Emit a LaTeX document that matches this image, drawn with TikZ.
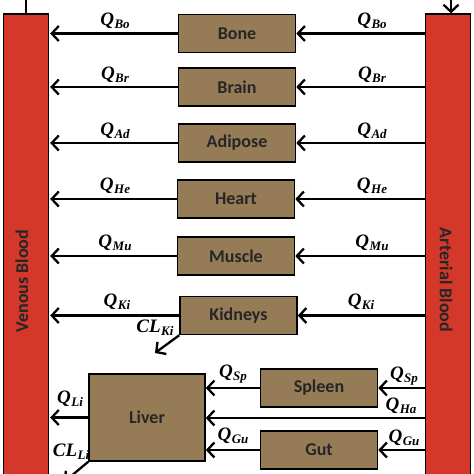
\documentclass[tikz,border=0pt]{standalone}
\usepackage{fontspec}
\setsansfont{Carlito}
\newfontfamily\qfont{Liberation Serif}
\usetikzlibrary{arrows.meta}
\definecolor{bloodred}{RGB}{211,56,43}
\definecolor{organbrown}{RGB}{149,123,86}
\tikzset{
  organ/.style={draw=black, line width=1.6pt, fill=organbrown, minimum width=117pt, minimum height=38pt, inner sep=0pt,
    font=\fontsize{18}{20}\selectfont\sffamily\bfseries, text=black!85},
  bar/.style={draw=black, line width=1.4pt, fill=bloodred, minimum width=45pt, minimum height=480pt, inner sep=0pt},
  bartext/.style={font=\fontsize{18}{20}\selectfont\sffamily\bfseries, text=black!85},
  flow/.style={line width=2.3pt, -{Straight Barb[length=7pt,width=15pt,line width=2.3pt]}},
  qlab/.style={font=\fontsize{19}{20}\selectfont\qfont\bfseries\itshape, inner sep=0pt}
}
\newcommand{\ql}[2]{#1\kern0.5pt\raisebox{-0.35ex}{\fontsize{13}{13}\selectfont #2}}
\begin{document}
\begin{tikzpicture}[x=1pt,y=-1pt]
\useasboundingbox (0,0) rectangle (474,474);
\clip (0,0) rectangle (474,474);
% blood bars
\node[bar] (venous) at (26,254) {};
\node[bar] (arterial) at (448,254) {};
\node[bartext, rotate=90] (vtext) at (22,281) {Venous Blood};
\node[bartext, rotate=-90] (atext) at (446,280) {Arterial Blood};
\coordinate (vtop) at (26,-10);
\coordinate (atop) at (451,-10);
\draw[line width=1.6pt] (venous.north) -- (vtop);
\draw[flow] (atop) -- (arterial.north -| atop);
% organs
\node[organ] (bone) at (237,33.5) {Bone};
\node[organ] (brain) at (237,87) {Brain};
\node[organ] (adipose) at (237,143) {Adipose};
\node[organ] (heart) at (236,199) {Heart};
\node[organ] (muscle) at (236,256) {Muscle};
\node[organ] (kidneys) at (238.5,315.5) {Kidneys};
\node[organ] (spleen) at (319,388) {Spleen};
\node[organ] (gut) at (319,450) {Gut};
\node[organ, minimum width=116pt, minimum height=87pt] (liver) at (147,417.5) {Liver};
% flows
\foreach \o in {bone, brain, adipose, heart, muscle, kidneys}{
  \draw[flow, shorten >=1pt] (\o.west) -- (venous.east |- \o.west);
  \draw[flow] (arterial.west |- \o.east) -- (\o.east);
}
% labels (top rows)
\node[qlab] (lbo) at (115,21) {\ql{Q}{Bo}};
\node[qlab] (rbo) at (372,21) {\ql{Q}{Bo}};
\node[qlab] (lbr) at (115,75) {\ql{Q}{Br}};
\node[qlab] (rbr) at (372,75) {\ql{Q}{Br}};
\node[qlab] (lad) at (115,131) {\ql{Q}{Ad}};
\node[qlab] (rad) at (372,131) {\ql{Q}{Ad}};
\node[qlab] (lhe) at (115,186) {\ql{Q}{He}};
\node[qlab] (rhe) at (372,186) {\ql{Q}{He}};
\node[qlab] (lmu) at (115,243) {\ql{Q}{Mu}};
\node[qlab] (rmu) at (372,243) {\ql{Q}{Mu}};
\node[qlab] (lki) at (117,302) {\ql{Q}{Ki}};
\node[qlab] (rki) at (361,302) {\ql{Q}{Ki}};
% kidney clearance
\coordinate (clki) at (155,353);
\draw[flow] (kidneys.south west) -- (clki);
\node[qlab] (lclki) at (155,328) {\ql{CL}{Ki}};
% splanchnic
\coordinate (ha) at (0,418);
\draw[flow] (spleen.west) -- (liver.east |- spleen.west);
\draw[flow] (gut.west) -- (liver.east |- gut.west);
\draw[flow] (arterial.west |- ha) -- (liver.east |- ha);
\draw[flow] (arterial.west |- spleen.east) -- (spleen.east);
\draw[flow] (arterial.west |- gut.east) -- (gut.east);
\node[qlab] (lsp) at (233,374) {\ql{Q}{Sp}};
\node[qlab] (lgu) at (233,436) {\ql{Q}{Gu}};
\node[qlab] (rsp) at (404,376) {\ql{Q}{Sp}};
\node[qlab] (rha) at (401,406) {\ql{Q}{Ha}};
\node[qlab] (rgu) at (404,438) {\ql{Q}{Gu}};
% liver outflow
\draw[flow, shorten >=1pt] (liver.west) -- (venous.east |- liver.west);
\node[qlab] (lli) at (70,399) {\ql{Q}{Li}};
\coordinate (clli) at (64,482);
\draw[flow] (liver.south west) -- (clli);
\node[qlab] (lclli) at (71,452) {\ql{CL}{Li}};
\end{tikzpicture}
\end{document}
